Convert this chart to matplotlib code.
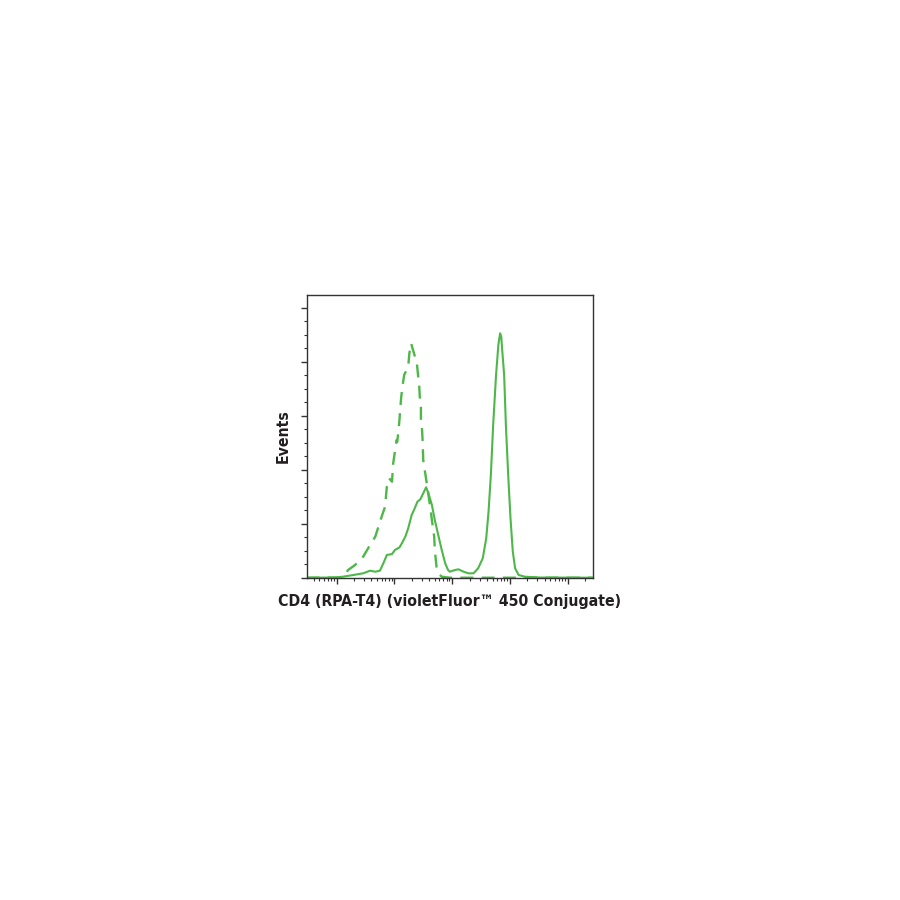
import matplotlib
matplotlib.use('Agg')
import matplotlib.pyplot as plt
from matplotlib.ticker import LogLocator, MultipleLocator, NullFormatter
from matplotlib import font_manager
import numpy as np

# log10 of fluorescence intensity, and events (arbitrary units, major tick = 20)
stained_log = [0.48, 0.97, 1.11, 1.29, 1.46, 1.58, 1.67, 1.75, 1.81, 1.87, 1.96, 2.01,
               2.09, 2.13, 2.19, 2.24, 2.30, 2.34, 2.40, 2.45, 2.50, 2.55, 2.59, 2.65,
               2.70, 2.76, 2.82, 2.88, 2.93, 2.96, 3.05, 3.11, 3.19, 3.28, 3.37, 3.45,
               3.53, 3.59, 3.63, 3.67, 3.71, 3.76, 3.80, 3.83, 3.85, 3.86, 3.90, 3.93,
               3.97, 4.01, 4.05, 4.09, 4.15, 4.26, 4.52, 5.43]
stained_events = [0, 0.07, 0.37, 1.0, 1.63, 2.59, 2.22, 2.59, 5.33, 8.41, 8.78, 10.26,
                  11.26, 12.74, 15.19, 18.30, 23.22, 25.07, 28.15, 29.04, 31.26, 33.48, 31.26, 26.93,
                  21.37, 15.81, 10.26, 5.33, 2.85, 2.22, 2.85, 3.11, 2.30, 1.63, 1.63, 3.48,
                  7.19, 14.59, 24.44, 38.04, 56.56, 75.07, 86.19, 90.52, 89.26, 86.19, 75.07, 56.56,
                  38.04, 22.0, 9.63, 3.48, 1.0, 0.37, 0.07, 0]

control_log = [0.48, 1.06, 1.15, 1.20, 1.32, 1.46, 1.58, 1.67, 1.78, 1.84, 1.87, 1.91,
               1.96, 1.98, 2.04, 2.05, 2.07, 2.09, 2.10, 2.12, 2.14, 2.17, 2.24, 2.26,
               2.29, 2.34, 2.39, 2.41, 2.43, 2.44, 2.46, 2.46, 2.48, 2.49, 2.50, 2.57,
               2.62, 2.65, 2.69, 2.70, 2.73, 2.76, 2.82, 2.96, 5.43]
control_events = [0, 0.07, 1.37, 2.85, 4.70, 7.78, 12.11, 15.19, 22.59, 26.30, 33.70, 36.81,
                  35.56, 42.37, 51.0, 50.37, 54.07, 58.78, 62.11, 67.04, 70.74, 75.07, 78.15, 83.11,
                  86.81, 83.11, 79.41, 75.07, 71.37, 67.04, 62.96, 58.41, 54.70, 50.37, 43.59, 33.70,
                  26.30, 21.37, 15.19, 10.26, 4.07, 1.63, 0.37, 0, 0]

xlabel = 'CD4 (RPA-T4) (violetFluor™ 450 Conjugate)'
ylabel = 'Events'
green = '#4db848'

# condensed bold, closest to the original label face
label_font = font_manager.FontProperties(family='DejaVu Sans', stretch='condensed',
                                         weight='bold', size=11.3)

fig = plt.figure(figsize=(9, 9), dpi=100)
ax = fig.add_axes([0.3408, 0.3581, 0.3178, 0.3141])

ax.plot(10 ** np.array(control_log), control_events, color=green, lw=1.7,
        linestyle=(0, (5.5, 3.5)))
ax.plot(10 ** np.array(stained_log), stained_events, color=green, lw=1.5)

ax.set_xscale('log')
ax.set_xlim(10 ** 0.484, 10 ** 5.433)
ax.set_ylim(0, 104.7)

ax.xaxis.set_major_locator(LogLocator(base=10, numticks=10))
ax.xaxis.set_minor_locator(LogLocator(base=10, subs=np.arange(2, 10), numticks=20))
ax.xaxis.set_major_formatter(NullFormatter())
ax.xaxis.set_minor_formatter(NullFormatter())
ax.yaxis.set_major_locator(MultipleLocator(20))
ax.yaxis.set_minor_locator(MultipleLocator(5))
ax.yaxis.set_major_formatter(NullFormatter())

spine_col = '#333333'
for s in ax.spines.values():
    s.set_color(spine_col)
    s.set_linewidth(1.0)
ax.tick_params(which='major', length=4, width=1.0, color=spine_col)
ax.tick_params(which='minor', length=2.2, width=0.8, color=spine_col)

ax.set_xlabel(xlabel, fontproperties=label_font, color='#231f20', labelpad=4)
ax.set_ylabel(ylabel, fontproperties=label_font, color='#231f20', labelpad=4)

fig.savefig('out.png', dpi=100)
